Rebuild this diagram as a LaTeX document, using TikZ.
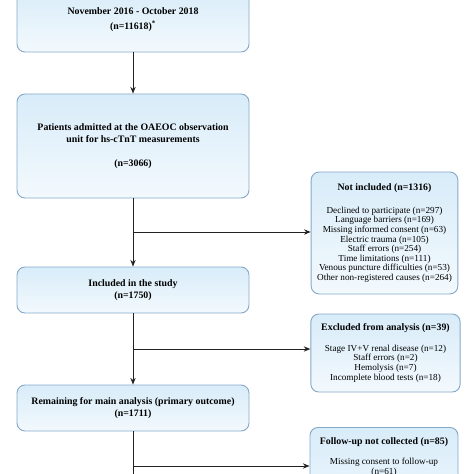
\documentclass[tikz,border=0pt]{standalone}
\usepackage{fontspec}
\setmainfont{Liberation Serif}
\usetikzlibrary{arrows.meta}
\definecolor{boxtop}{HTML}{D8ECF9}
\definecolor{boxbot}{HTML}{F3F9FD}
\definecolor{boxline}{HTML}{86A9C8}
\definecolor{arrowc}{HTML}{222222}
\begin{document}
\begin{tikzpicture}[x=0.75pt,y=-0.75pt,
  flowbox/.style={draw=boxline, line width=0.7pt, rounded corners=6pt,
    top color=boxtop, bottom color=boxbot, align=center, inner sep=0pt,
    font=\fontsize{7.4}{9}\selectfont\bfseries},
  sidebox/.style={draw=boxline, line width=0.7pt, rounded corners=6pt,
    top color=boxtop, bottom color=boxbot, align=center, inner sep=0pt,
    font=\fontsize{6.9}{7.2}\selectfont},
  conn/.style={draw=arrowc, line width=0.75pt, -{Stealth[length=5pt,width=4pt]}},
  plain/.style={draw=arrowc, line width=0.75pt}]
\useasboundingbox (0,0) rectangle (474,474);
\clip (0,0) rectangle (474,474);
\node[flowbox, minimum width=174pt, minimum height=48pt] (b1) at (133,20)
  {November 2016 - October 2018\\[2.2pt](n=11618)\textsuperscript{*}};
\node[flowbox, minimum width=174pt, minimum height=78pt] (b2) at (133,146)
  {Patients admitted at the OAEOC observation\\unit for hs-cTnT measurements\\[9pt](n=3066)};
\node[flowbox, minimum width=174pt, minimum height=34.5pt] (b3) at (133,290)
  {Included in the study\\(n=1750)};
\node[flowbox, minimum width=174pt, minimum height=34.5pt] (b4) at (133,408)
  {Remaining for main analysis (primary outcome)\\(n=1711)};
\node[sidebox, minimum width=110pt, minimum height=91.5pt] (ni) at (384.5,233)
  {{\fontsize{7.4}{9}\selectfont\bfseries Not included (n=1316)}\\[10pt]
   Declined to participate (n=297)\\
   Language barriers (n=169)\\
   Missing informed consent (n=63)\\
   Electric trauma (n=105)\\
   Staff errors (n=254)\\
   Time limitations (n=111)\\
   Venous puncture difficulties (n=53)\\
   Other non-registered causes (n=264)};
\node[sidebox, minimum width=112pt, minimum height=58.5pt] (ex) at (385.5,353)
  {{\fontsize{7.4}{9}\selectfont\bfseries Excluded from analysis (n=39)}\\[8pt]
   Stage IV+V renal disease (n=12)\\
   Staff errors (n=2)\\
   Hemolysis (n=7)\\
   Incomplete blood tests (n=18)};
\node[sidebox, minimum width=111pt, minimum height=75pt, anchor=north] (fu) at (384,427)
  {\rule{0pt}{0pt}\\[-6pt]{\fontsize{7.4}{9}\selectfont\bfseries Follow-up not collected (n=85)}\\[8pt]
   Missing consent to follow-up\\
   (n=61)\\ \\ \\ \\};
\coordinate (j1) at (133,232);
\coordinate (j2) at (133,349);
\coordinate (j3) at (133,466);
\coordinate (bend) at (133,480);
\draw[conn] (b1.south) -- (b2.north);
\draw[conn] (b2.south) -- (b3.north);
\draw[conn] (b3.south) -- (b4.north);
\draw[plain] (b4.south) -- (bend);
\draw[conn] (j1) -- (j1 -| ni.west);
\draw[conn] (j2) -- (j2 -| ex.west);
\draw[conn] (j3) -- (j3 -| fu.west);
\end{tikzpicture}
\end{document}
